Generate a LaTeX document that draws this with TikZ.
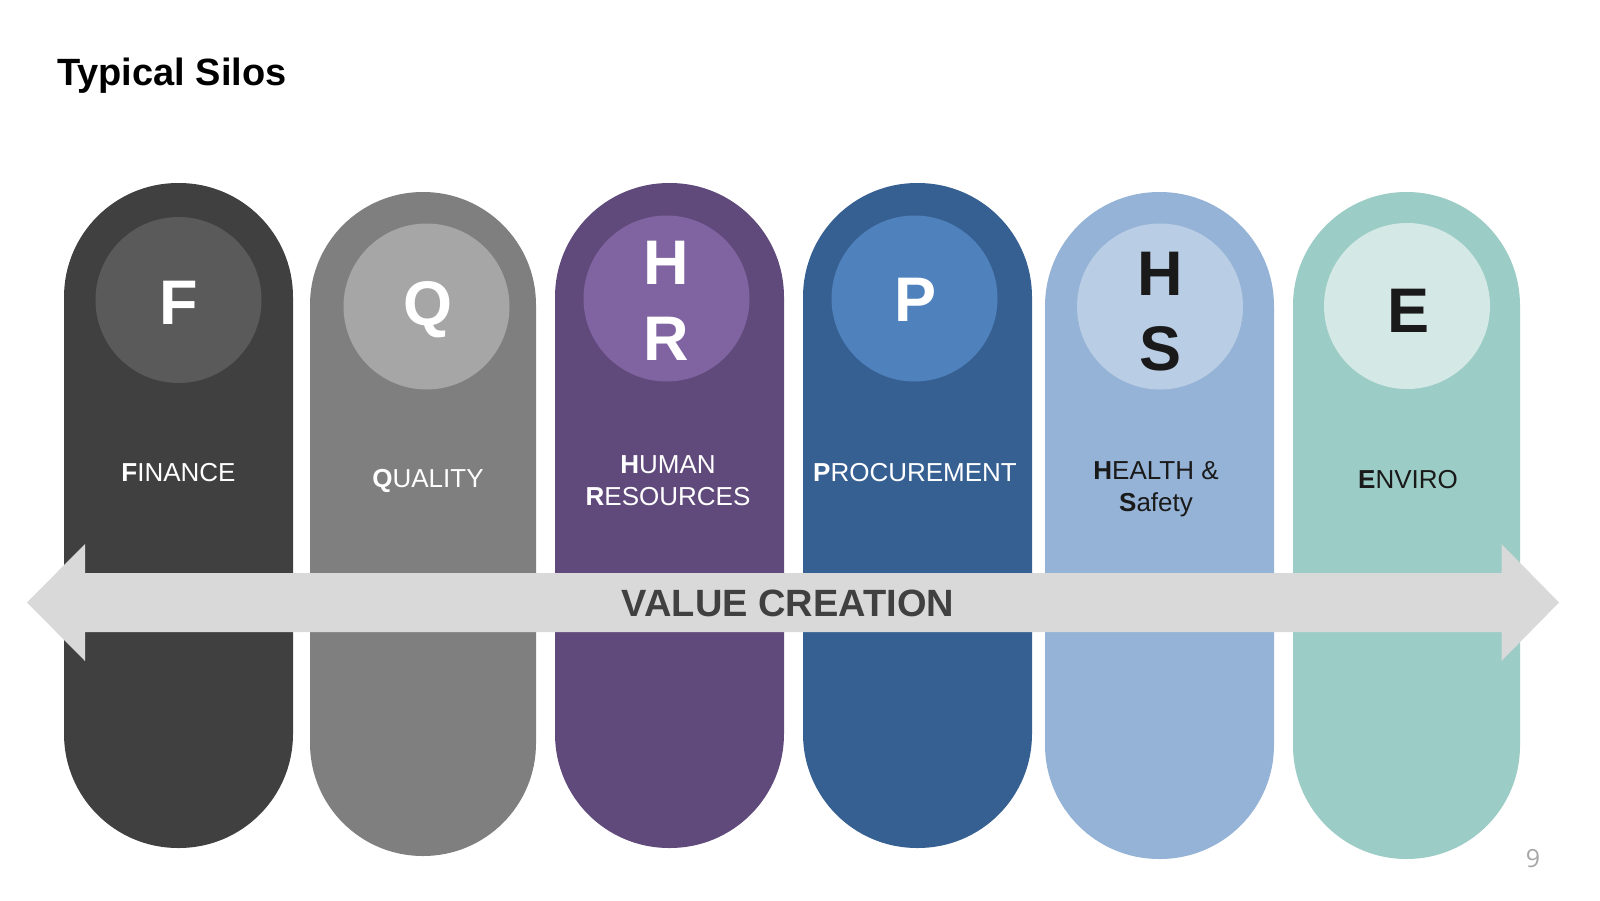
\documentclass[tikz,border=0pt]{standalone}
\usepackage{fontspec}
\setmainfont{Liberation Sans}
\newfontfamily\pagefont{Open Sans}
\definecolor{finpill}{HTML}{404040}
\definecolor{fincirc}{HTML}{595A59}
\definecolor{qualpill}{HTML}{7F7F7F}
\definecolor{qualcirc}{HTML}{A6A6A6}
\definecolor{hrpill}{HTML}{604A7B}
\definecolor{hrcirc}{HTML}{8064A2}
\definecolor{procpill}{HTML}{366092}
\definecolor{proccirc}{HTML}{4F81BD}
\definecolor{hspill}{HTML}{95B3D7}
\definecolor{hscirc}{HTML}{B9CDE5}
\definecolor{envpill}{HTML}{9CCCC6}
\definecolor{envcirc}{HTML}{D4E8E6}
\definecolor{arrowgray}{HTML}{D9D9D9}
\definecolor{valtext}{HTML}{404040}
\definecolor{darktext}{HTML}{1A1A1A}
\definecolor{pagegray}{HTML}{A6A6A6}
\tikzset{
  bigletter/.style={inner sep=0pt, font=\fontsize{63}{63}\selectfont\bfseries},
  silolabel/.style={inner sep=0pt, align=center, font=\fontsize{26}{31.5}\selectfont},
}
\begin{document}
\begin{tikzpicture}[x=1pt,y=-1pt]
\useasboundingbox (0,0) rectangle (1600,900);
\fill[white] (0,0) rectangle (1600,900);
% title
\node[anchor=base west, inner sep=0pt, font=\fontsize{38}{38}\selectfont\bfseries] (title) at (57,85) {Typical Silos};
% pills
\fill[finpill, rounded corners=114pt] (64,183) rectangle (293,848);
\fill[qualpill, rounded corners=112.8pt] (310,192) rectangle (536,856);
\fill[hrpill, rounded corners=114pt] (555,183) rectangle (784,848);
\fill[procpill, rounded corners=114pt] (803,183) rectangle (1032,848);
\fill[hspill, rounded corners=114pt] (1045,192) rectangle (1274,859);
\fill[envpill, rounded corners=113.3pt] (1293,192) rectangle (1520,859);
% circles
\fill[fincirc] (178.5,300) circle[radius=83];
\fill[qualcirc] (426.5,306.5) circle[radius=83];
\fill[hrcirc] (666.5,298.5) circle[radius=83];
\fill[proccirc] (914.5,298.5) circle[radius=83];
\fill[hscirc] (1160,306.5) circle[radius=83];
\fill[envcirc] (1407,306) circle[radius=83];
% letters
\node[bigletter, text=white] (lf) at (178.5,302.5) {F};
\node[bigletter, text=white] (lq) at (427.5,310) {Q};
\node[bigletter, text=white] (lh1) at (666.5,263) {H};
\node[bigletter, text=white] (lr) at (666.5,338.5) {R};
\node[bigletter, text=white] (lp) at (915,300) {P};
\node[bigletter, text=darktext] (lh2) at (1160,273.5) {H};
\node[bigletter, text=darktext] (ls) at (1160,348.5) {S};
\node[bigletter, text=darktext] (le) at (1408,310.5) {E};
% labels
\node[silolabel, text=white] (tfin) at (178.5,472.5) {\textbf{F}INANCE};
\node[silolabel, text=white] (tqual) at (428,481) {\textbf{Q}UALITY};
\node[silolabel, text=white] (thr) at (668,480.5) {\textbf{H}UMAN\\\textbf{R}ESOURCES};
\node[silolabel, text=white] (tproc) at (915,472.5) {\textbf{P}ROCUREMENT};
\node[silolabel, text=darktext] (ths) at (1156,489) {\textbf{H}EALTH \&\\\textbf{S}afety};
\node[silolabel, text=darktext] (tenv) at (1408,480) {\textbf{E}NVIRO};
% double arrow
\fill[arrowgray] (27,602.5) -- (85,544) -- (85,573) -- (1501.5,573) -- (1501.5,544)
  -- (1559,602.5) -- (1501.5,661) -- (1501.5,632) -- (85,632) -- (85,661) -- cycle;
\node[inner sep=0pt, text=valtext, font=\fontsize{38}{38}\selectfont\bfseries] (val) at (788,603) {VALUE CREATION};
% page number
\node[inner sep=0pt, text=pagegray, font=\pagefont\fontsize{25}{25}\selectfont] (pnum) at (1533,859) {9};
\end{tikzpicture}
\end{document}
